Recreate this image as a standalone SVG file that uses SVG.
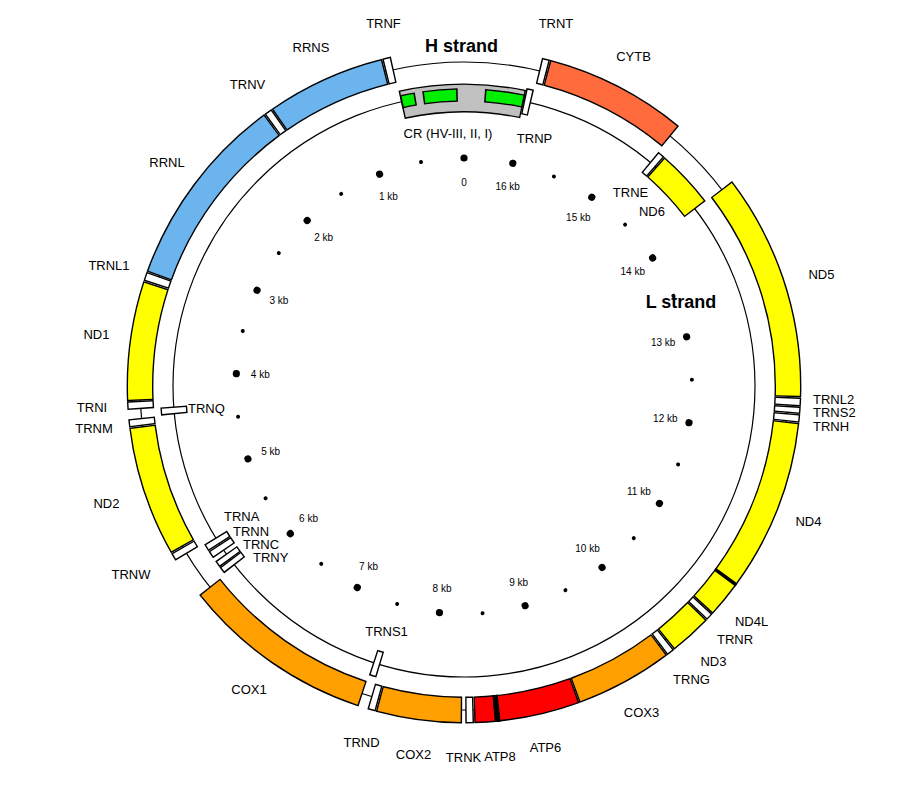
<svg xmlns="http://www.w3.org/2000/svg" width="920" height="790" viewBox="0 0 920 790">
<style>
text{font-family:"Liberation Sans",Arial,sans-serif;font-size:13px;fill:#000}
.m{text-anchor:middle}
.s{text-anchor:start}
.kb{font-size:10px;text-anchor:middle;dominant-baseline:central}
.bold{font-size:18px;font-weight:bold;text-anchor:middle}
.k{stroke:#000;stroke-width:26.8}
.c{stroke-width:24}
.w{stroke:#fff}.b{stroke:#6cb4ee}.y{stroke:#ffff00}.o{stroke:#ffa000}.r{stroke:#ff0000}.cy{stroke:#ff6b3d}
.crk{stroke:#000;stroke-width:29}
.g{stroke:#c0c0c0;stroke-width:26.2}
.hk{stroke:#000;stroke-width:13.4}
.gr{stroke:#00ee00;stroke-width:10.8}
.thin{fill:none;stroke:#000;stroke-width:1.2}
.bd{fill:#000}
</style>
<defs>
<path id="ro" d="M464 62A324 324 0 1 0 464 710A324 324 0 1 0 464 62" pathLength="360" fill="none"/>
<path id="ri" d="M464 95A291 291 0 1 0 464 677A291 291 0 1 0 464 95" pathLength="360" fill="none"/>
<path id="rc" d="M464 98A288 288 0 1 0 464 674A288 288 0 1 0 464 98" pathLength="360" fill="none"/>
</defs>
<rect width="920" height="790" fill="#fff"/>
<g id="backbone">
<circle class="thin" cx="464" cy="386" r="324"/>
<circle class="thin" cx="464" cy="386" r="291"/>
</g>
<g id="TRNF"><use href="#ro" class="k" stroke-dasharray="0 12.537 1.521 400"/><use href="#ro" class="c w" stroke-dasharray="0 12.787 1.021 400"/><text class="m" x="383.5" y="28">TRNF</text></g>
<g id="RRNS"><use href="#ro" class="k" stroke-dasharray="0 14.079 20.706 400"/><use href="#ro" class="c b" stroke-dasharray="0 14.329 20.206 400"/><text class="m" x="311" y="52">RRNS</text></g>
<g id="TRNV"><use href="#ro" class="k" stroke-dasharray="0 34.807 1.478 400"/><use href="#ro" class="c w" stroke-dasharray="0 35.057 0.978 400"/><text class="m" x="247.5" y="89">TRNV</text></g>
<g id="RRNL"><use href="#ro" class="k" stroke-dasharray="0 36.306 33.852 400"/><use href="#ro" class="c b" stroke-dasharray="0 36.556 33.352 400"/><text class="m" x="167" y="167">RRNL</text></g>
<g id="TRNL1"><use href="#ro" class="k" stroke-dasharray="0 70.179 1.608 400"/><use href="#ro" class="c w" stroke-dasharray="0 70.429 1.108 400"/><text class="m" x="109" y="270">TRNL1</text></g>
<g id="ND1"><use href="#ro" class="k" stroke-dasharray="0 71.852 20.750 400"/><use href="#ro" class="c y" stroke-dasharray="0 72.102 20.250 400"/><text class="m" x="96.5" y="339">ND1</text></g>
<g id="TRNI"><use href="#ro" class="k" stroke-dasharray="0 92.624 1.477 400"/><use href="#ro" class="c w" stroke-dasharray="0 92.874 0.977 400"/><text class="m" x="92" y="412">TRNI</text></g>
<g id="TRNM"><use href="#ro" class="k" stroke-dasharray="0 95.644 1.456 400"/><use href="#ro" class="c w" stroke-dasharray="0 95.894 0.956 400"/><text class="m" x="94" y="433">TRNM</text></g>
<g id="ND2"><use href="#ro" class="k" stroke-dasharray="0 97.121 22.618 400"/><use href="#ro" class="c y" stroke-dasharray="0 97.371 22.118 400"/><text class="m" x="106.5" y="508">ND2</text></g>
<g id="TRNW"><use href="#ro" class="k" stroke-dasharray="0 119.761 1.456 400"/><use href="#ro" class="c w" stroke-dasharray="0 120.011 0.956 400"/><text class="m" x="131" y="579">TRNW</text></g>
<g id="COX1"><use href="#ro" class="k" stroke-dasharray="0 128.278 33.482 400"/><use href="#ro" class="c o" stroke-dasharray="0 128.528 32.982 400"/><text class="m" x="249" y="694">COX1</text></g>
<g id="TRND"><use href="#ro" class="k" stroke-dasharray="0 163.346 1.456 400"/><use href="#ro" class="c w" stroke-dasharray="0 163.596 0.956 400"/><text class="m" x="361.5" y="747">TRND</text></g>
<g id="COX2"><use href="#ro" class="k" stroke-dasharray="0 164.823 14.840 400"/><use href="#ro" class="c o" stroke-dasharray="0 165.073 14.340 400"/><text class="m" x="413.5" y="758.5">COX2</text></g>
<g id="TRNK"><use href="#ro" class="k" stroke-dasharray="0 180.228 1.499 400"/><use href="#ro" class="c w" stroke-dasharray="0 180.478 0.999 400"/><text class="m" x="463.5" y="762">TRNK</text></g>
<g id="ATP8"><use href="#ro" class="k" stroke-dasharray="0 181.771 4.476 400"/><use href="#ro" class="c r" stroke-dasharray="0 182.021 3.976 400"/><text class="m" x="500" y="760.5">ATP8</text></g>
<g id="ATP6"><use href="#ro" class="k" stroke-dasharray="0 185.269 14.774 400"/><use href="#ro" class="c r" stroke-dasharray="0 185.519 14.274 400"/><use href="#ro" class="k" stroke-dasharray="0 185.269 0.978 400"/><text class="m" x="545.5" y="752">ATP6</text></g>
<g id="COX3"><use href="#ro" class="k" stroke-dasharray="0 200.043 17.013 400"/><use href="#ro" class="c o" stroke-dasharray="0 200.293 16.513 400"/><text class="m" x="641.5" y="717">COX3</text></g>
<g id="TRNG"><use href="#ro" class="k" stroke-dasharray="0 217.077 1.456 400"/><use href="#ro" class="c w" stroke-dasharray="0 217.327 0.956 400"/><text class="m" x="691.5" y="683.5">TRNG</text></g>
<g id="ND3"><use href="#ro" class="k" stroke-dasharray="0 218.555 7.496 400"/><use href="#ro" class="c y" stroke-dasharray="0 218.805 6.996 400"/><text class="m" x="713.5" y="665.5">ND3</text></g>
<g id="TRNR"><use href="#ro" class="k" stroke-dasharray="0 226.073 1.390 400"/><use href="#ro" class="c w" stroke-dasharray="0 226.323 0.890 400"/><text class="m" x="735" y="643.5">TRNR</text></g>
<g id="ND4L"><use href="#ro" class="k" stroke-dasharray="0 227.485 6.431 400"/><use href="#ro" class="c y" stroke-dasharray="0 227.735 5.931 400"/><text class="m" x="751.5" y="625.5">ND4L</text></g>
<g id="ND4"><use href="#ro" class="k" stroke-dasharray="0 233.785 29.919 400"/><use href="#ro" class="c y" stroke-dasharray="0 234.035 29.419 400"/><use href="#ro" class="k" stroke-dasharray="0 233.535 0.631 400"/><text class="m" x="808.5" y="525.5">ND4</text></g>
<g id="TRNH"><use href="#ro" class="k" stroke-dasharray="0 263.726 1.477 400"/><use href="#ro" class="c w" stroke-dasharray="0 263.976 0.977 400"/><text class="s" x="813" y="430.5">TRNH</text></g>
<g id="TRNS2"><use href="#ro" class="k" stroke-dasharray="0 265.225 1.261 400"/><use href="#ro" class="c w" stroke-dasharray="0 265.475 0.761 400"/><text class="s" x="813" y="417">TRNS2</text></g>
<g id="TRNL2"><use href="#ro" class="k" stroke-dasharray="0 266.507 1.521 400"/><use href="#ro" class="c w" stroke-dasharray="0 266.757 1.021 400"/><text class="s" x="813" y="403.5">TRNL2</text></g>
<g id="ND5"><use href="#ro" class="k" stroke-dasharray="0 268.050 39.348 400"/><use href="#ro" class="c y" stroke-dasharray="0 268.300 38.848 400"/><text class="m" x="821.5" y="278.5">ND5</text></g>
<g id="CYTB"><use href="#ro" class="k" stroke-dasharray="0 320.412 24.770 400"/><use href="#ro" class="c cy" stroke-dasharray="0 320.662 24.270 400"/><text class="m" x="633.5" y="60.5">CYTB</text></g>
<g id="TRNT"><use href="#ro" class="k" stroke-dasharray="0 345.204 1.412 400"/><use href="#ro" class="c w" stroke-dasharray="0 345.454 0.912 400"/><text class="m" x="556" y="28">TRNT</text></g>
<g id="TRNQ"><use href="#ri" class="k" stroke-dasharray="0 94.058 1.542 400"/><use href="#ri" class="c w" stroke-dasharray="0 94.338 0.982 400"/><text class="s" x="188" y="413">TRNQ</text></g>
<g id="TRNA"><use href="#ri" class="k" stroke-dasharray="0 121.391 1.477 400"/><use href="#ri" class="c w" stroke-dasharray="0 121.671 0.917 400"/><text class="s" x="224" y="521">TRNA</text></g>
<g id="TRNN"><use href="#ri" class="k" stroke-dasharray="0 122.911 1.565 400"/><use href="#ri" class="c w" stroke-dasharray="0 123.191 1.005 400"/><text class="s" x="233" y="535.5">TRNN</text></g>
<g id="TRNC"><use href="#ri" class="k" stroke-dasharray="0 125.171 1.412 400"/><use href="#ri" class="c w" stroke-dasharray="0 125.451 0.852 400"/><text class="s" x="243" y="548.5">TRNC</text></g>
<g id="TRNY"><use href="#ri" class="k" stroke-dasharray="0 126.583 1.413 400"/><use href="#ri" class="c w" stroke-dasharray="0 126.863 0.853 400"/><text class="s" x="253" y="561.5">TRNY</text></g>
<g id="TRNS1"><use href="#ri" class="k" stroke-dasharray="0 161.782 1.477 400"/><use href="#ri" class="c w" stroke-dasharray="0 162.062 0.917 400"/><text class="m" x="386.5" y="635.5">TRNS1</text></g>
<g id="ND6"><use href="#ri" class="k" stroke-dasharray="0 307.420 11.385 400"/><use href="#ri" class="c y" stroke-dasharray="0 307.700 10.825 400"/><text class="m" x="652" y="215.5">ND6</text></g>
<g id="TRNE"><use href="#ri" class="k" stroke-dasharray="0 318.827 1.478 400"/><use href="#ri" class="c w" stroke-dasharray="0 319.107 0.918 400"/><text class="m" x="630.5" y="196.5">TRNE</text></g>
<g id="TRNP"><use href="#ri" class="k" stroke-dasharray="0 346.682 1.456 400"/><use href="#ri" class="c w" stroke-dasharray="0 346.962 0.896 400"/><text class="m" x="534.5" y="142.5">TRNP</text></g>
<g id="CR">
<g transform="rotate(30 464 386)">
<use href="#rc" class="crk" stroke-dasharray="0 18.159 24.356 400"/>
<use href="#rc" class="g" stroke-dasharray="0 18.439 23.796 400"/>
<use href="#ri" class="hk" stroke-dasharray="0 18.159 7.800 400"/>
<use href="#ri" class="gr" stroke-dasharray="0 18.459 7.200 400"/>
<use href="#ri" class="hk" stroke-dasharray="0 31.238 6.845 400"/>
<use href="#ri" class="gr" stroke-dasharray="0 31.538 6.245 400"/>
<use href="#ri" class="hk" stroke-dasharray="0 39.517 2.955 400"/>
<use href="#ri" class="gr" stroke-dasharray="0 39.817 2.355 400"/>
</g>
<text class="m" x="448" y="137.5">CR (HV-III, II, I)</text>
</g>
<g id="ticks" class="bd">
<circle cx="464" cy="158" r="3.6"/>
<circle cx="464" cy="158" r="2" transform="rotate(-10.864 464 386)"/>
<circle cx="464" cy="158" r="3.6" transform="rotate(-21.727 464 386)"/>
<circle cx="464" cy="158" r="2" transform="rotate(-32.591 464 386)"/>
<circle cx="464" cy="158" r="3.6" transform="rotate(-43.455 464 386)"/>
<circle cx="464" cy="158" r="2" transform="rotate(-54.318 464 386)"/>
<circle cx="464" cy="158" r="3.6" transform="rotate(-65.182 464 386)"/>
<circle cx="464" cy="158" r="2" transform="rotate(-76.046 464 386)"/>
<circle cx="464" cy="158" r="3.6" transform="rotate(-86.909 464 386)"/>
<circle cx="464" cy="158" r="2" transform="rotate(-97.773 464 386)"/>
<circle cx="464" cy="158" r="3.6" transform="rotate(-108.637 464 386)"/>
<circle cx="464" cy="158" r="2" transform="rotate(-119.500 464 386)"/>
<circle cx="464" cy="158" r="3.6" transform="rotate(-130.364 464 386)"/>
<circle cx="464" cy="158" r="2" transform="rotate(-141.228 464 386)"/>
<circle cx="464" cy="158" r="3.6" transform="rotate(-152.091 464 386)"/>
<circle cx="464" cy="158" r="2" transform="rotate(-162.955 464 386)"/>
<circle cx="464" cy="158" r="3.6" transform="rotate(-173.819 464 386)"/>
<circle cx="464" cy="158" r="2" transform="rotate(-184.682 464 386)"/>
<circle cx="464" cy="158" r="3.6" transform="rotate(-195.546 464 386)"/>
<circle cx="464" cy="158" r="2" transform="rotate(-206.410 464 386)"/>
<circle cx="464" cy="158" r="3.6" transform="rotate(-217.273 464 386)"/>
<circle cx="464" cy="158" r="2" transform="rotate(-228.137 464 386)"/>
<circle cx="464" cy="158" r="3.6" transform="rotate(-239.001 464 386)"/>
<circle cx="464" cy="158" r="2" transform="rotate(-249.864 464 386)"/>
<circle cx="464" cy="158" r="3.6" transform="rotate(-260.728 464 386)"/>
<circle cx="464" cy="158" r="2" transform="rotate(-271.592 464 386)"/>
<circle cx="464" cy="158" r="3.6" transform="rotate(-282.455 464 386)"/>
<circle cx="464" cy="158" r="2" transform="rotate(-293.319 464 386)"/>
<circle cx="464" cy="158" r="3.6" transform="rotate(-304.183 464 386)"/>
<circle cx="464" cy="158" r="2" transform="rotate(-315.046 464 386)"/>
<circle cx="464" cy="158" r="3.6" transform="rotate(-325.910 464 386)"/>
<circle cx="464" cy="158" r="2" transform="rotate(-336.774 464 386)"/>
<circle cx="464" cy="158" r="3.6" transform="rotate(-347.637 464 386)"/>
</g>
<g id="scale">
<text class="kb" x="464" y="182">0</text>
<g transform="rotate(-21.727 464 386)"><text class="kb" x="464" y="182" transform="rotate(21.727 464 182)">1 kb</text></g>
<g transform="rotate(-43.455 464 386)"><text class="kb" x="464" y="182" transform="rotate(43.455 464 182)">2 kb</text></g>
<g transform="rotate(-65.182 464 386)"><text class="kb" x="464" y="182" transform="rotate(65.182 464 182)">3 kb</text></g>
<g transform="rotate(-86.909 464 386)"><text class="kb" x="464" y="182" transform="rotate(86.909 464 182)">4 kb</text></g>
<g transform="rotate(-108.637 464 386)"><text class="kb" x="464" y="182" transform="rotate(108.637 464 182)">5 kb</text></g>
<g transform="rotate(-130.364 464 386)"><text class="kb" x="464" y="182" transform="rotate(130.364 464 182)">6 kb</text></g>
<g transform="rotate(-152.091 464 386)"><text class="kb" x="464" y="182" transform="rotate(152.091 464 182)">7 kb</text></g>
<g transform="rotate(-173.819 464 386)"><text class="kb" x="464" y="182" transform="rotate(173.819 464 182)">8 kb</text></g>
<g transform="rotate(-195.546 464 386)"><text class="kb" x="464" y="182" transform="rotate(195.546 464 182)">9 kb</text></g>
<g transform="rotate(-217.273 464 386)"><text class="kb" x="464" y="182" transform="rotate(217.273 464 182)">10 kb</text></g>
<g transform="rotate(-239.001 464 386)"><text class="kb" x="464" y="182" transform="rotate(239.001 464 182)">11 kb</text></g>
<g transform="rotate(-260.728 464 386)"><text class="kb" x="464" y="182" transform="rotate(260.728 464 182)">12 kb</text></g>
<g transform="rotate(-282.455 464 386)"><text class="kb" x="464" y="182" transform="rotate(282.455 464 182)">13 kb</text></g>
<g transform="rotate(-304.183 464 386)"><text class="kb" x="464" y="182" transform="rotate(304.183 464 182)">14 kb</text></g>
<g transform="rotate(-325.910 464 386)"><text class="kb" x="464" y="182" transform="rotate(325.910 464 182)">15 kb</text></g>
<g transform="rotate(-347.637 464 386)"><text class="kb" x="464" y="182" transform="rotate(347.637 464 182)">16 kb</text></g>
</g>
<g id="strands">
<text class="bold" x="461.5" y="52">H strand</text>
<text class="bold" x="681" y="308">L strand</text>
</g>
</svg>
